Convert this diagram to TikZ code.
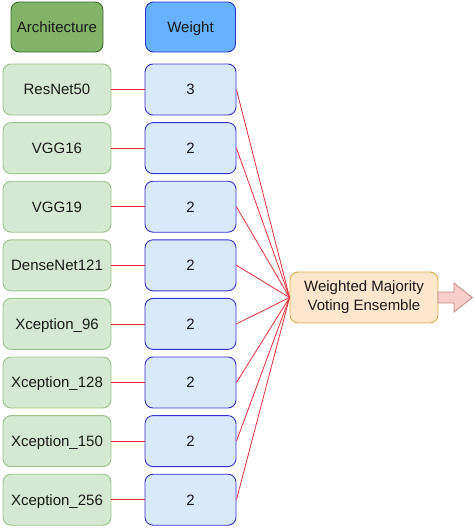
\documentclass[tikz,border=0pt]{standalone}
\usepackage{fontspec}
\setmainfont{Liberation Sans}
\usepackage{tikz}
\usetikzlibrary{shapes,arrows,calc}
\definecolor{archhead}{HTML}{82B366}
\definecolor{archheadline}{HTML}{3D6B2A}
\definecolor{archfill}{HTML}{D5E8D4}
\definecolor{archline}{HTML}{9AC38A}
\definecolor{wthead}{HTML}{66B2FF}
\definecolor{wtline}{HTML}{3333CC}
\definecolor{wtfill}{HTML}{DAE8FC}
\definecolor{ensfill}{HTML}{FFE6CC}
\definecolor{ensline}{HTML}{E0B050}
\definecolor{outfill}{HTML}{F8CECC}
\definecolor{outline}{HTML}{C98A88}
\definecolor{link}{HTML}{E8303A}
\tikzstyle{line} = [draw=link, line width=0.8pt]
\tikzstyle{arch} = [draw=archline, fill=archfill, rectangle, rounded corners=8pt, text centered, text height=10.7pt, text depth=0pt, minimum width=108pt, minimum height=51pt, line width=0.9pt]
\tikzstyle{archtitle} = [arch, draw=archheadline, fill=archhead, minimum width=92pt, minimum height=50pt]
\tikzstyle{weight} = [draw=wtline, fill=wtfill, rectangle, rounded corners=8pt, text centered, text height=10.7pt, text depth=0pt, minimum width=91pt, minimum height=51pt, line width=0.9pt]
\tikzstyle{weighttitle} = [weight, fill=wthead, minimum width=90pt, minimum height=50pt]
\tikzstyle{ensemble} = [draw=ensline, fill=ensfill, rectangle, rounded corners=8pt, text centered, align=center, minimum width=148pt, minimum height=51pt, line width=0.9pt]
\tikzstyle{output} = [draw=outline, fill=outfill, line width=0.8pt, line join=miter]

\begin{document}
\begin{tikzpicture}[x=1pt, y=1pt, node distance=58.6pt, font=\fontsize{15}{19}\selectfont, text=black!90]
        \useasboundingbox (0,0) rectangle (474,-531);
        \node[archtitle] (archhead) at (57,-27) {Architecture};
        \node[weighttitle] (wthead) at (190.5,-27) {Weight};
        \node[arch, below of=archhead, node distance=62.5pt] (resnet) {ResNet50};
        \node[arch, below of=resnet] (vgga) {VGG16};
        \node[arch, below of=vgga] (vggb) {VGG19};
        \node[arch, below of=vggb] (dense) {DenseNet121};
        \node[arch, below of=dense] (xca) {Xception\_96};
        \node[arch, below of=xca] (xcb) {Xception\_128};
        \node[arch, below of=xcb] (xcc) {Xception\_150};
        \node[arch, below of=xcc] (xcd) {Xception\_256};
        \node[weight, below of=wthead, node distance=62.5pt] (wresnet) {3};
        \node[weight, below of=wresnet] (wvgga) {2};
        \node[weight, below of=wvgga] (wvggb) {2};
        \node[weight, below of=wvggb] (wdense) {2};
        \node[weight, below of=wdense] (wxca) {2};
        \node[weight, below of=wxca] (wxcb) {2};
        \node[weight, below of=wxcb] (wxcc) {2};
        \node[weight, below of=wxcc] (wxcd) {2};
        \node[ensemble] (ens) at (364,-297.5) {Weighted Majority\\Voting Ensemble};
        % output arrow
        \coordinate (out) at ($(ens.east)+(34,0)$);
        \draw[output] ($(ens.east)+(-0.5,5.5)$) -- ++(16,0) -- ++(0,9) -- (out)
            -- ($(ens.east)+(15.5,-14.5)$) -- ++(0,9) -- ++(-16,0) -- cycle;
        \path[line] (resnet) -- (wresnet);
        \path[line] (vgga) -- (wvgga);
        \path[line] (vggb) -- (wvggb);
        \path[line] (dense) -- (wdense);
        \path[line] (xca) -- (wxca);
        \path[line] (xcb) -- (wxcb);
        \path[line] (xcc) -- (wxcc);
        \path[line] (xcd) -- (wxcd);
        \path[line] (wresnet.east) -- (ens.west);
        \path[line] (wvgga.east) -- (ens.west);
        \path[line] (wvggb.east) -- (ens.west);
        \path[line] (wdense.east) -- (ens.west);
        \path[line] (wxca.east) -- (ens.west);
        \path[line] (wxcb.east) -- (ens.west);
        \path[line] (wxcc.east) -- (ens.west);
        \path[line] (wxcd.east) -- (ens.west);
    \end{tikzpicture}
\end{document}
